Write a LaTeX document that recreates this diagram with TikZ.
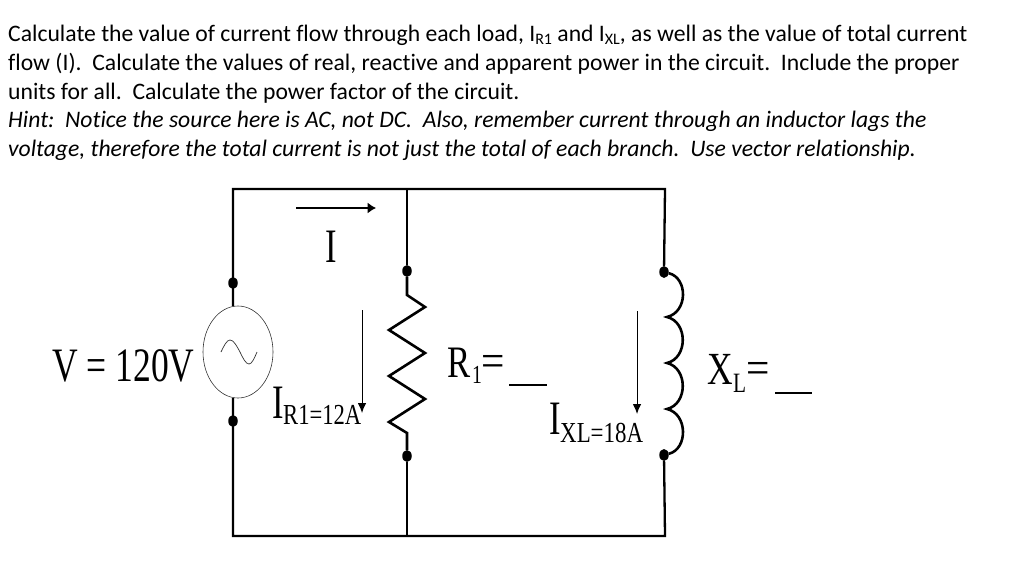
\documentclass[tikz,border=0pt]{standalone}
\usepackage{fontspec}
\setmainfont[Ligatures=NoCommon]{Carlito}
\newfontfamily\circuitfont{Liberation Serif}
\usetikzlibrary{arrows.meta}
\usetikzlibrary{shapes.geometric}
\newcommand{\cirtext}[3]{\scalebox{#1}[1]{\fontsize{#2}{#2}\selectfont\circuitfont #3}}
\newcommand{\subtext}[1]{\raisebox{-0.12em}{\fontsize{16}{16}\selectfont #1}}
\tikzset{
    wire/.style={black, line width=2.3pt},
    loadline/.style={black, line width=2.6pt, line join=miter},
    current/.style={black, line width=1pt, -{Latex[length=10pt,width=8.5pt]}},
    currenttop/.style={black, line width=1.1pt, -{Latex[length=8.5pt,width=11pt]}},
    para/.style={anchor=base west, inner sep=0pt, font=\fontsize{23.65}{29}\selectfont\frenchspacing},
    label/.style={anchor=base west, inner sep=0pt},
    dotnode/.style={ellipse, fill=black, inner sep=0pt, minimum width=9.5pt, minimum height=12pt}
}
\begin{document}
\begin{tikzpicture}[x=1pt, y=-1pt]
            \useasboundingbox (0,0) rectangle (1024,575);
            % Question text
            \node[para] (line1) at (8,42)  {Calculate the value of current flow through each load, I\subtext{R1} and I\subtext{XL}, as well as the value of total current};
            \node[para] (line2) at (8,71)  {flow (I).\ \ Calculate the values of real, reactive and apparent power in the circuit.\ \ Include the proper};
            \node[para] (line3) at (8,99.5) {units for all.\ \ Calculate the power factor of the circuit.};
            \node[para] (line4) at (8,127) {\itshape Hint:\ \ Notice the source here is AC, not DC.\ \ Also, remember current through an inductor lags the};
            \node[para] (line5) at (8,156) {\itshape voltage, therefore the total current is not just the total of each branch.\ \ Use vector relationship.};
            % Corners and junctions
            \coordinate (tl) at (233,189);
            \coordinate (tm) at (407,189);
            \coordinate (tr) at (665,189);
            \coordinate (bl) at (233,536);
            \coordinate (bm) at (407,536);
            \coordinate (br) at (665,536);
            \coordinate (srcN) at (233,306);
            \coordinate (srcS) at (233,398);
            % Source
            \node[ellipse, draw=black!80, line width=0.6pt, minimum width=70pt, minimum height=92pt, inner sep=0pt] (src) at (238,352) {};
            \draw[black!80, line width=0.7pt] (221,352) sin (230,340) cos (240,352) sin (249,364) cos (257,352);
            \node[dotnode] (srcdotN) at (233,283) {};
            \node[dotnode] (srcdotS) at (233,421) {};
            % Resistor
            \node[dotnode] (resdotN) at (407,271) {};
            \node[dotnode] (resdotS) at (407,456) {};
            \draw[loadline] (resdotN) -- (407,295) -- (425,307) -- (389,330) -- (425,353) -- (389,376) -- (425,399) -- (389,422) -- (407,433) -- (resdotS);
            % Inductor
            \node[dotnode] (inddotN) at (664,272) {};
            \node[dotnode] (inddotS) at (664,455) {};
            \draw[loadline] (inddotN) .. controls (688,278) and (688,312) .. (667,317)
                 .. controls (688,322) and (688,358) .. (667,363)
                 .. controls (688,368) and (688,404) .. (667,409)
                 .. controls (688,414) and (688,449) .. (inddotS);
            % Wires
            \draw[wire] (srcN) -- (tl) -- (tm) -- (tr) -- (inddotN);
            \draw[wire] (tm) -- (resdotN);
            \draw[wire] (srcS) -- (bl) -- (bm) -- (br) -- (inddotS);
            \draw[wire] (resdotS) -- (bm);
            % Current arrows
            \coordinate (itail) at (296,208);
            \coordinate (ihead) at (376,208);
            \coordinate (irtail) at (362,310);
            \coordinate (irhead) at (362,413);
            \coordinate (ixtail) at (637,311);
            \coordinate (ixhead) at (637,414);
            \draw[currenttop] (itail) -- (ihead);
            \draw[current] (irtail) -- (irhead);
            \draw[current] (ixtail) -- (ixhead);
            % Labels
            \node[label] (ilabel) at (325,262) {\cirtext{0.72}{48}{I}};
            \node[label] (vlabel) at (52,381) {\cirtext{0.74}{48}{V = 120V}};
            \node[label] (irlabel) at (272,418) {\cirtext{0.72}{48}{I}};
            \node[label] (irsub) at (283,424) {\cirtext{0.78}{29}{R1=12A}};
            \node[label] (ixlabel) at (549,434) {\cirtext{0.72}{48}{I}};
            \node[label] (ixsub) at (560,442) {\cirtext{0.79}{29}{XL=18A}};
            \node[label] (rlabel) at (447,377) {\cirtext{0.77}{45}{R}};
            \node[label] (rsub) at (472,383) {\cirtext{0.76}{26}{1}};
            \node[label] (req) at (481,376) {\cirtext{0.9}{46}{=}};
            \node[label] (rblank) at (509,386) {\rule{38pt}{1.8pt}};
            \node[label] (xlabel) at (707,384) {\cirtext{0.77}{46}{X}};
            \node[label] (xsub) at (733,392) {\cirtext{0.76}{28}{L}};
            \node[label] (xeq) at (746,383) {\cirtext{0.9}{46}{=}};
            \node[label] (xblank) at (775,394) {\rule{37pt}{1.8pt}};
\end{tikzpicture}
\end{document}
